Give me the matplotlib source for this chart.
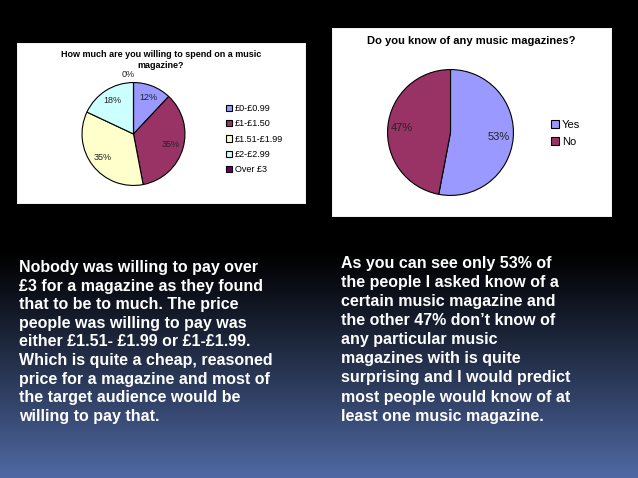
import numpy as np
import matplotlib
matplotlib.use("Agg")
import matplotlib.pyplot as plt
from matplotlib.patches import Rectangle

plt.rcParams['font.family'] = ['Liberation Sans', 'DejaVu Sans']

# Chart 1 data
price_labels = ['£0-£0.99', '£1-£1.50', '£1.51-£1.99', '£2-£2.99', 'Over £3']
price_values = [12, 35, 35, 18, 0]
price_colors = ['#9999ff', '#993366', '#ffffcc', '#ccffff', '#660066']

# Chart 2 data
know_labels = ['Yes', 'No']
know_values = [53, 47]
know_colors = ['#9999ff', '#993366']

text_left = ("Nobody was willing to pay over\n"
             "£3 for a magazine as they found\n"
             "that to be to much. The price\n"
             "people was willing to pay was\n"
             "either £1.51- £1.99 or £1-£1.99.\n"
             "Which is quite a cheap, reasoned\n"
             "price for a magazine and most of\n"
             "the target audience would be\n"
             "willing to pay that.")
text_right = ("As you can see only 53% of\n"
              "the people I asked know of a\n"
              "certain music magazine and\n"
              "the other 47% don\u2019t know of\n"
              "any particular music\n"
              "magazines with is quite\n"
              "surprising and I would predict\n"
              "most people would know of at\n"
              "least one music magazine.")

W, H = 638, 478
fig = plt.figure(figsize=(W / 100, H / 100), dpi=100)


def fx(px):
    return px / W


def fy(py):
    return 1 - py / H


# background: black fading to blue at the bottom
bg = fig.add_axes([0, 0, 1, 1])
rows = np.arange(H)
t = np.clip((rows - 250) / (H - 250), 0, 1) ** 1.1
top = np.array([0, 0, 0])
bottom = np.array([80, 106, 165]) / 255
grad = top[None, :] * (1 - t[:, None]) + bottom[None, :] * t[:, None]
img = np.repeat(grad[:, None, :], 2, axis=1)
bg.imshow(img, aspect='auto', extent=[0, 1, 0, 1])
bg.axis('off')

# white chart boxes
fig.patches.append(Rectangle((fx(16), fy(204)), fx(290), 162 / H, transform=fig.transFigure,
                             facecolor='white', edgecolor='black', linewidth=0.8, zorder=1))
fig.patches.append(Rectangle((fx(331), fy(217)), fx(281), 190 / H, transform=fig.transFigure,
                             facecolor='white', edgecolor='black', linewidth=0.8, zorder=1))

# pie 1
r1 = 52.5
ax1 = fig.add_axes([fx(133.5 - r1), fy(134 + r1), fx(2 * r1), 2 * r1 / H])
w1, _, pct1 = ax1.pie(price_values, colors=price_colors, startangle=90, counterclock=False,
                      autopct='%1.0f%%', pctdistance=0.76,
                      wedgeprops=dict(edgecolor='black', linewidth=0.8),
                      textprops=dict(fontsize=6.5, color='#222222'))
for txt, v in zip(pct1, price_values):
    if v == 0:
        txt.set_position((0.02, 1.16))
        txt.set_ha('right')
ax1.set_xlim(-1.02, 1.02)
ax1.set_ylim(-1.02, 1.02)
ax1.set_zorder(2)
fig.text(fx(161), fy(60), 'How much are you willing to spend on a music\nmagazine?',
         ha='center', va='center', fontsize=6.5, fontweight='bold', linespacing=1.15, zorder=3)
fig.legend(w1, price_labels, loc='upper left', bbox_to_anchor=(fx(226), fy(104)),
           frameon=False, fontsize=6.5, handlelength=0.7, handleheight=0.7,
           handletextpad=0.3, labelspacing=0.7, borderaxespad=0, borderpad=0)

# pie 2
r2 = 64.2
ax2 = fig.add_axes([fx(450.5 - r2), fy(132.5 + r2), fx(2 * r2), 2 * r2 / H])
w2, _, pct2 = ax2.pie(know_values, colors=know_colors, startangle=90, counterclock=False,
                      autopct='%1.0f%%', pctdistance=0.77,
                      wedgeprops=dict(edgecolor='black', linewidth=0.8),
                      textprops=dict(fontsize=8, color='#222222'))
ax2.set_xlim(-1.02, 1.02)
ax2.set_ylim(-1.02, 1.02)
ax2.set_zorder(2)
fig.text(fx(471), fy(41), 'Do you know of any music magazines?',
         ha='center', va='center', fontsize=8, fontweight='bold', zorder=3)
fig.legend(w2, know_labels, loc='upper left', bbox_to_anchor=(fx(551), fy(120)),
           frameon=False, fontsize=8, handlelength=0.7, handleheight=0.7,
           handletextpad=0.3, labelspacing=0.65, borderaxespad=0, borderpad=0)

# slide text
fig.text(fx(19), fy(260), text_left, ha='left', va='top', color='white',
         fontsize=11.5, fontweight='bold', linespacing=1.3)
fig.text(fx(341), fy(256), text_right, ha='left', va='top', color='white',
         fontsize=11.5, fontweight='bold', linespacing=1.34)

fig.savefig('out.png', dpi=100)
